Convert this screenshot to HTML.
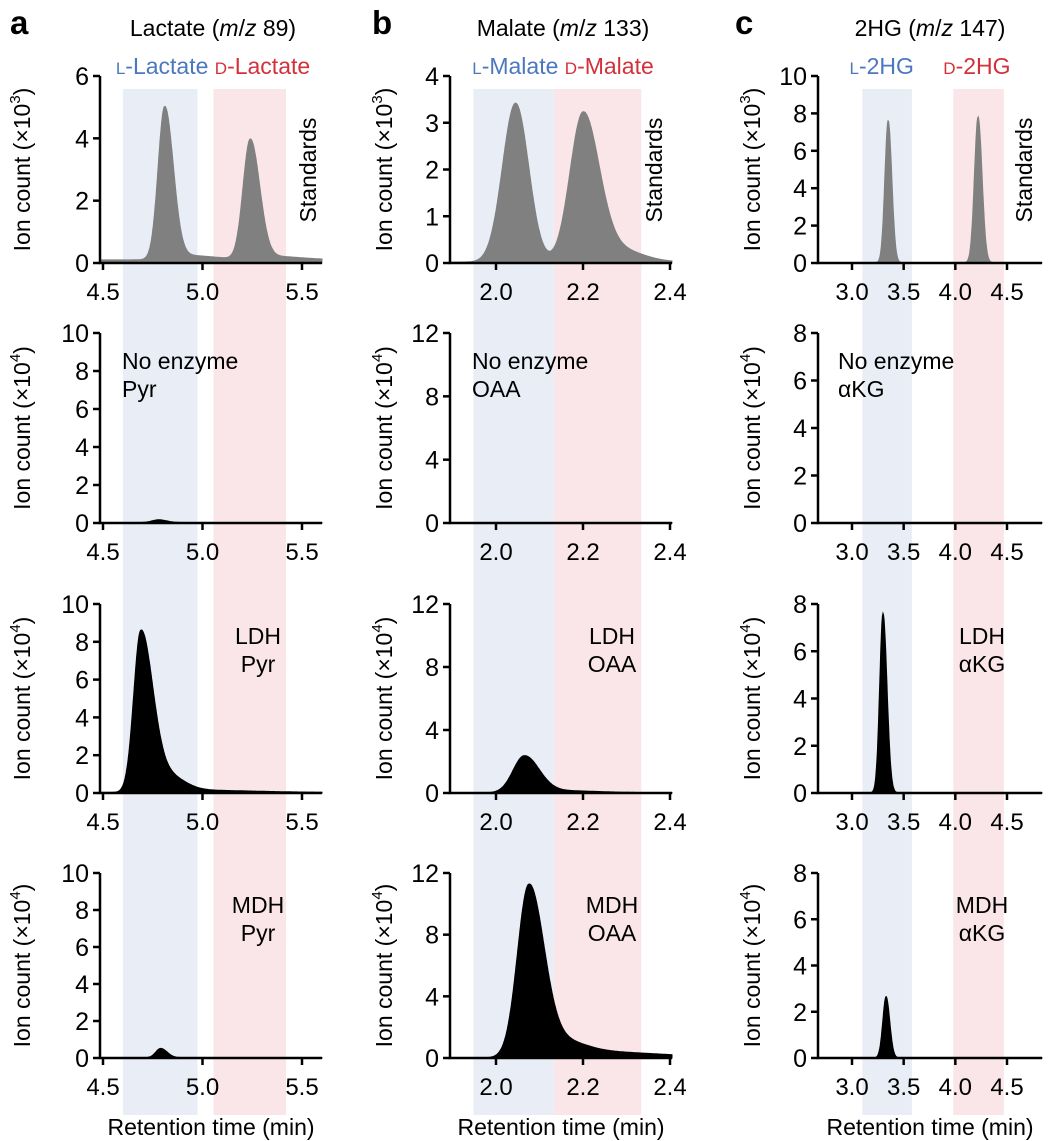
<!DOCTYPE html>
<html><head><meta charset="utf-8">
<style>
html,body{margin:0;padding:0;background:#fff;}
svg{display:block;font-family:"Liberation Sans","DejaVu Sans",sans-serif;}
</style></head>
<body>
<svg id="fig" width="1050" height="1141" viewBox="0 0 1050 1141" xmlns="http://www.w3.org/2000/svg"></svg>
<script>
// ---- data ----
const panelLetters = ["a","b","c"];
const panelTitles = ["Lactate (", "Malate (", "2HG ("];
const panelMz = ["89)","133)","147)"];
const lLabels = ["L-Lactate","L-Malate","L-2HG"];
const dLabels = ["D-Lactate","D-Malate","D-2HG"];
const xTicksA = [4.5,5.0,5.5];
const xTickLabelsA = ["4.5","5.0","5.5"];
const xTicksB = [2.0,2.2,2.4];
const xTickLabelsB = ["2.0","2.2","2.4"];
const xTicksC = [3.0,3.5,4.0,4.5];
const xTickLabelsC = ["3.0","3.5","4.0","4.5"];
const blueBands = [[4.6,4.975],[1.948,2.133],[3.1,3.58]];
const redBands = [[5.055,5.42],[2.133,2.334],[3.98,4.47]];
const yTicksA = [[0,2,4,6],[0,2,4,6,8,10],[0,2,4,6,8,10],[0,2,4,6,8,10]];
const yTicksB = [[0,1,2,3,4],[0,4,8,12],[0,4,8,12],[0,4,8,12]];
const yTicksC = [[0,2,4,6,8,10],[0,2,4,6,8],[0,2,4,6,8],[0,2,4,6,8]];
const rowExp = ["3","4","4","4"];
const rowNotesA = [["Standards"],["No enzyme","Pyr"],["LDH","Pyr"],["MDH","Pyr"]];
const rowNotesB = [["Standards"],["No enzyme","OAA"],["LDH","OAA"],["MDH","OAA"]];
const rowNotesC = [["Standards"],["No enzyme","\u03b1KG"],["LDH","\u03b1KG"],["MDH","\u03b1KG"]];
// peaks: [center, height, sigma, tailFactor]
const peaksA = [[[4.81,4.85,0.033,1.3],[4.9,0.15,0.08,2],[5.24,3.8,0.036,1.3],[5.33,0.12,0.08,2]],[[4.78,0.15,0.035,1.2]],[[4.69,8.4,0.036,1.6],[4.8,1.0,0.06,1.5],[4.95,0.12,0.1,3]],[[4.79,0.5,0.025,1.3]]];
const peaksB = [[[2.045,3.4,0.03,1.0],[2.2,3.15,0.03,1.2],[2.27,0.3,0.04,1.5]],[],[[2.065,2.3,0.026,1.3],[2.13,0.15,0.05,2]],[[2.075,10.8,0.026,1.3],[2.13,1.0,0.04,1.5],[2.22,0.4,0.08,2]]];
const peaksC = [[[3.35,7.6,0.032,1.1],[4.22,7.8,0.035,1.1]],[],[[3.3,7.6,0.032,1.2]],[[3.33,2.65,0.032,1.1]]];
const baselineA = [0.1,0.02,0.03,0.02];
const baselineB = [0.02,0.01,0.01,0.01];
const baselineC = [0.02,0.01,0.01,0.01];

// ---- layout ----
const NS="http://www.w3.org/2000/svg";
const svg=document.getElementById('fig');
function el(tag,attrs,parent){const e=document.createElementNS(NS,tag);for(const k in attrs)e.setAttribute(k,attrs[k]);(parent||svg).appendChild(e);return e;}
const rowsY=[[76,263],[333,523],[604,793],[873,1058]];
const panels=[
 {letter:0,ax0:100,ax1:322,tickPx:[103,302],tickV:[4.5,5.5],xt:xTicksA,xl:xTickLabelsA,yt:yTicksA,notes:rowNotesA,peaks:peaksA,base:baselineA,ylx:30,titleX:213,stdX:316,noteLeft:122,noteRightX:258},
 {letter:1,ax0:450,ax1:672,tickPx:[496,670],tickV:[2.0,2.4],xt:xTicksB,xl:xTickLabelsB,yt:yTicksB,notes:rowNotesB,peaks:peaksB,base:baselineB,ylx:392,titleX:563,stdX:662,noteLeft:472,noteRightX:612},
 {letter:2,ax0:818,ax1:1042,tickPx:[852,1007],tickV:[3.0,4.5],xt:xTicksC,xl:xTickLabelsC,yt:yTicksC,notes:rowNotesC,peaks:peaksC,base:baselineC,ylx:760,titleX:930,stdX:1032,noteLeft:838,noteRightX:982}
];
panels.forEach((p,pi)=>{
 const sx=(p.tickPx[1]-p.tickPx[0])/(p.tickV[1]-p.tickV[0]);
 const X=v=>p.tickPx[0]+(v-p.tickV[0])*sx;
 const xStart=(p.ax0-p.tickPx[0])/sx+p.tickV[0];
 const xEnd=(p.ax1-p.tickPx[0])/sx+p.tickV[0];
 const g=el('g',{});
 
 
 const bb=el('rect',{x:X(blueBands[pi][0]),y:89,width:X(blueBands[pi][1])-X(blueBands[pi][0]),height:1026,fill:'#e9eef6'},g);
 
 
 const rb=el('rect',{x:X(redBands[pi][0]),y:89,width:X(redBands[pi][1])-X(redBands[pi][0]),height:1026,fill:'#fae6e8'},g);
 
 
 const lt=el('text',{y:34,'font-size':33,'font-weight':'bold'},g);
 lt.setAttribute('x',pi==0?10:pi==1?372:735);
 lt.textContent=panelLetters[pi];
 
 
 const tt=el('text',{x:p.titleX,y:36,'font-size':23,'text-anchor':'middle'},g);
 
 
 tt.innerHTML=panelTitles[pi]+'<tspan font-style="italic">m</tspan>/<tspan font-style="italic">z</tspan> '+panelMz[pi];
 const ll=el('text',{x:p.titleX,y:74,'font-size':23,'text-anchor':'middle'},g);
 
 
 const l1=lLabels[pi], d1=dLabels[pi];
 ll.innerHTML='<tspan fill="#4b78bd"><tspan font-size="17">L</tspan>'+l1.slice(1)+'</tspan>'+(pi==2?'\u2003 ':' ')+'<tspan fill="#d3303a"><tspan font-size="17">D</tspan>'+d1.slice(1)+'</tspan>';
 rowsY.forEach((ry,ri)=>{
  const yt=p.yt[ri]; const ymax=yt[yt.length-1];
  const Y=v=>ry[1]-(v/ymax)*(ry[1]-ry[0]);
  let d='M'+p.ax0+','+ry[1];
  const N=400;
  for(let i=0;i<=N;i++){
   const v=xStart+(xEnd-xStart)*i/N;
   let s=p.base[ri];
   p.peaks[ri].forEach(pk=>{const sg=v>pk[0]?pk[2]*pk[3]:pk[2];s+=pk[1]*Math.exp(-0.5*Math.pow((v-pk[0])/sg,2));});
   d+=' L'+X(v).toFixed(1)+','+Y(s).toFixed(1);
  }
  d+=' L'+p.ax1+','+ry[1]+' Z';
  const tr=el('path',{d:d,fill:ri==0?'#808080':'#000',stroke:ri==0?'#808080':'#000','stroke-width':1},g);
  
  
  const ax=el('path',{d:'M'+p.ax0+','+ry[0]+' L'+p.ax0+','+ry[1]+' L'+p.ax1+','+ry[1],fill:'none',stroke:'#000','stroke-width':2.5},g);
  
  
  yt.forEach(t=>{
   el('line',{x1:p.ax0-7,x2:p.ax0,y1:Y(t),y2:Y(t),stroke:'#000','stroke-width':2.5},g);
   const tl=el('text',{x:p.ax0-11,y:Y(t)+9,'font-size':25,'text-anchor':'end'},g);
   tl.textContent=t;
   
   
  });
  p.xt.forEach((t,ti)=>{
   el('line',{x1:X(t),x2:X(t),y1:ry[1],y2:ry[1]+7,stroke:'#000','stroke-width':2.5},g);
   const tl=el('text',{x:X(t),y:ry[1]+37,'font-size':24,'text-anchor':'middle'},g);
   tl.textContent=p.xl[ti];
   
   
  });
  const yc=(ry[0]+ry[1])/2;
  const yl=el('text',{x:p.ylx,y:yc,'font-size':23,'text-anchor':'middle',transform:'rotate(-90 '+p.ylx+' '+yc+')'},g);
  yl.innerHTML='Ion count (\u00d710<tspan font-size="15" dy="-10">'+rowExp[ri]+'</tspan><tspan dy="10">)</tspan>';
  
  
  const n=p.notes[ri];
  if(ri==0){
   const st=el('text',{x:p.stdX,y:170,'font-size':23,'text-anchor':'middle',transform:'rotate(-90 '+p.stdX+' 170)'},g);
   st.textContent=n[0];
   
   
  } else if(ri==1){
   n.forEach((s,k)=>{const t=el('text',{x:p.noteLeft,y:ry[0]+36+k*28,'font-size':23},g);t.textContent=s;
    
    });
  } else {
   n.forEach((s,k)=>{const t=el('text',{x:p.noteRightX,y:ry[0]+40+k*28,'font-size':23,'text-anchor':'middle'},g);t.textContent=s;
    
    });
  }
 });
 const xt=el('text',{x:(p.ax0+p.ax1)/2,y:1135,'font-size':23,'text-anchor':'middle'},g);
 xt.textContent='Retention time (min)';
 
 
});
</script>
</body></html>
